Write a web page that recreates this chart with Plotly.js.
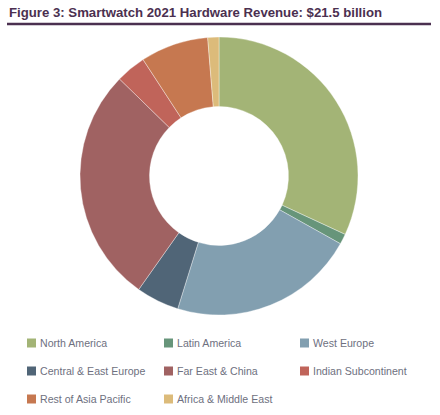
<!DOCTYPE html>
<html>
<head>
<meta charset="utf-8">
<script src="https://cdn.plot.ly/plotly-3.0.1.min.js"></script>
<style>html,body{margin:0;padding:0;background:#fff}#chart{width:440px;height:415px}</style>
</head>
<body>
<div id="chart"></div>
<script>
var categories = ["North America","Latin America","West Europe","Central & East Europe","Far East & China","Indian Subcontinent","Rest of Asia Pacific","Africa & Middle East"];
var shares = [31.9, 1.2, 21.7, 5.0, 27.5, 3.5, 7.9, 1.3];
var colors = ["#a3b476","#67957a","#829fb0","#506577","#a06262","#c0645a","#c67850","#dcbb7a"];
var titleText = "Figure 3: Smartwatch 2021 Hardware Revenue: $21.5 billion";

var W = 440, H = 415;
var cx = 219, cy = 176, R = 139;

var trace = {
  type: "pie",
  labels: categories,
  values: shares,
  hole: 0.5,
  sort: false,
  direction: "clockwise",
  rotation: 0,
  textinfo: "none",
  hoverinfo: "label+percent",
  marker: {colors: colors, line: {color: "rgba(255,255,255,0.6)", width: 0.6}},
  domain: {x: [(cx - R) / W, (cx + R) / W], y: [(H - cy - R) / H, (H - cy + R) / H]},
  showlegend: false
};

var shapes = [{
  type: "line", xref: "paper", yref: "paper",
  x0: 7 / W, x1: 431 / W, y0: 1 - 24 / H, y1: 1 - 24 / H,
  line: {color: "#4b3050", width: 2.5}
}];
var annotations = [{
  text: "<b>" + titleText + "</b>", xref: "paper", yref: "paper",
  x: 7 / W, y: 1 - 12 / H, xanchor: "left", yanchor: "middle", showarrow: false,
  font: {family: "Liberation Sans, Arial, sans-serif", size: 13.2, color: "#4b3050"}
}];

var colX = [27, 164, 300], rowY = [343, 371, 399];
categories.forEach(function (c, i) {
  var x = colX[i % 3], y = rowY[Math.floor(i / 3)];
  shapes.push({
    type: "rect", xref: "paper", yref: "paper",
    x0: x / W, x1: (x + 9) / W, y0: 1 - (y - 4.5) / H, y1: 1 - (y + 4.5) / H,
    fillcolor: colors[i], line: {width: 0}
  });
  annotations.push({
    text: c, xref: "paper", yref: "paper", x: (x + 11) / W, y: 1 - y / H,
    xanchor: "left", yanchor: "middle", showarrow: false,
    font: {family: "Liberation Sans, Arial, sans-serif", size: 10.6, color: "#6e7080"}
  });
});

var layout = {
  width: W, height: H,
  margin: {l: 0, r: 0, t: 0, b: 0},
  paper_bgcolor: "#fff",
  showlegend: false,
  shapes: shapes,
  annotations: annotations
};
Plotly.newPlot("chart", [trace], layout, {displayModeBar: false, staticPlot: true});
</script>
</body>
</html>
